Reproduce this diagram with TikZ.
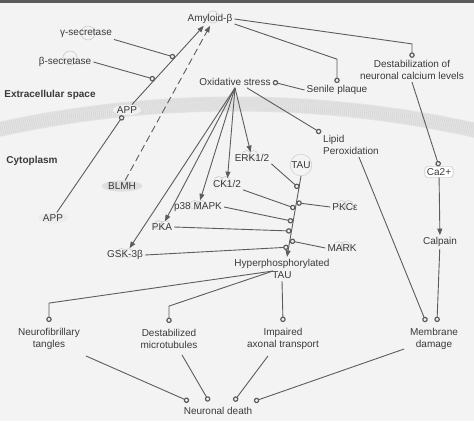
\documentclass[tikz,border=0pt]{standalone}
\usepackage{fontspec}
\setmainfont{Liberation Sans}
\usetikzlibrary{arrows.meta,shapes.geometric,calc}
\definecolor{bggray}{HTML}{F3F3F3}
\definecolor{bargray}{HTML}{5A5A5A}
\definecolor{linegray}{HTML}{5C5C5C}
\definecolor{txtgray}{HTML}{3A3A3A}
\definecolor{membgray}{HTML}{E3E3E3}
\definecolor{stripegray}{HTML}{D8D8D8}
\tikzset{act arrow/.style={
  linegray, line width=0.9pt,
  -{Triangle[width=5pt,length=6.5pt]}
  },
  inh line/.style={
  linegray, line width=0.9pt,
  -{Circle[open,length=5.5pt,line width=1.2pt]}
  },
  glyph/.style={gray!40, line width=0.6pt},
  mol/.style={text=txtgray, font=\fontsize{10}{12.5}\selectfont, inner sep=2pt, align=center},
  outcome/.style={mol, outer sep=4pt},
  compartment/.style={text=txtgray, font=\bfseries\fontsize{10}{12}\selectfont}
}

\begin{document}
\begin{tikzpicture}[x=1pt,y=-1pt]
    \fill[bggray] (0,0) rectangle (474,421);
    \fill[bargray] (0,0) rectangle (474,2.5);

    % membrane
    \begin{scope}
      \clip (0,0) rectangle (474,421);
      \draw[membgray, line width=15pt] (235,1204) circle[radius=1100];
      \draw[stripegray, line width=13pt, dash pattern=on 0.7pt off 1.3pt] (235,1204) circle[radius=1100];
    \end{scope}

    % faint glyphs behind the labels
    \draw[glyph] (213,17) circle[radius=6];
    \draw[glyph] (88,33) circle[radius=7];
    \draw[glyph] (70,58) circle[radius=7];
    \foreach \x/\y in {250/155,222/181,198/205,162/225,125/253,345/205,342/246} {
        \draw[glyph] (\x-3.5,\y) circle[radius=4.5];
        \draw[glyph] (\x+3.5,\y) circle[radius=4.5];
    }

    \node[compartment] (extra) at (50,95) {Extracellular space};
    \node[compartment] (cyto) at (32,161) {Cytoplasm};

    \node[mol] (amy) at (210,19) {Amyloid-β};
    \node[mol] (gsec) at (86,33) {γ-secretase};
    \node[mol] (bsec) at (65,62) {β-secretase};
    \node[mol, ellipse, fill=gray!12, draw=gray!30, inner sep=0.5pt] (appm) at (127,110) {APP};
    \node[mol, ellipse, fill=gray!15, inner sep=0.5pt] (appl) at (53,218) {APP};
    \node[mol, ellipse, fill=gray!25, inner sep=0.5pt] (blmh) at (122,186) {BLMH};
    \node[mol] (ox) at (235,82) {Oxidative stress};
    \node[mol] (senile) at (337,90) {Senile plaque};
    \node[mol] (destab) at (412,70) {Destabilization of\\neuronal calcium levels};
    \node[mol, anchor=west, align=left] (lipid) at (321,145) {Lipid\\Peroxidation};

    \node[mol] (erk) at (252,158) {ERK1/2};
    \node[mol] (ck) at (227,184) {CK1/2};
    \node[mol] (p38) at (198,207) {p38 MAPK};
    \node[mol] (pka) at (162,227) {PKA};
    \node[mol] (gsk) at (125,255) {GSK-3β};
    \node[mol, circle, draw=gray!45, inner sep=0.5pt] (tau) at (301,165) {TAU};
    \node[mol] (pkce) at (345,207) {PKCε};
    \node[mol] (mark) at (342,248) {MARK};
    \node[mol] (hyp) at (282,269) {Hyperphosphorylated\\TAU};

    \node[mol, draw=gray!60, fill=white, rounded corners=3pt] (ca) at (439,172) {Ca2+};
    \node[mol] (calp) at (440,242) {Calpain};

    \node[outcome] (nft) at (49,339) {Neurofibrillary\\tangles};
    \node[outcome] (dmt) at (169,339) {Destabilized\\microtubules};
    \node[outcome] (iat) at (283,339) {Impaired\\axonal transport};
    \node[outcome] (memb) at (434,339) {Membrane\\damage};
    \node[outcome] (death) at (218,411) {Neuronal death};

    % amyloid processing
    \draw[act arrow] (appm) -- (amy) coordinate[pos=0.6] (gsite) coordinate[pos=0.32] (bsite);
    \draw[inh line] (gsec.south east) -- (gsite);
    \draw[inh line] (bsec.east) -- (bsite);
    \draw[inh line] (appl) -- (appm);
    \draw[act arrow, dash pattern=on 7pt off 4pt] (blmh) -- (amy.south);

    \draw[inh line] (amy.east) -- ([yshift=14pt]destab.north) -- (destab.north);
    \draw[inh line] ([yshift=-5pt]amy.east) -- ([yshift=24pt]senile.north) -- (senile.north);

    % oxidative stress
    \foreach \n in {erk,ck,p38,pka,gsk}
        \draw[act arrow] (ox.south) -- (\n);
    \draw[inh line] (senile.west) -- (ox.east);
    \draw[inh line] ([xshift=12pt]ox.south) -- (lipid.north west);

    % tau phosphorylation
    \draw[act arrow] (tau.south) -- ([xshift=5pt]hyp.north)
        coordinate[pos=0.15] (onerk) coordinate[pos=0.33] (onpkce)
        coordinate[pos=0.4] (onck) coordinate[pos=0.56] (onp38)
        coordinate[pos=0.68] (onpka) coordinate[pos=0.8] (onmark)
        coordinate[pos=0.88] (ongsk);
    \foreach \a/\b in {erk.south east/onerk,ck.south east/onck,p38.east/onp38,pka.east/onpka,gsk.east/ongsk,pkce.west/onpkce,mark.west/onmark}
        \draw[inh line] (\a) -- (\b);

    % calcium
    \draw[inh line] (destab.south) -- (ca.north);
    \draw[act arrow] (ca) -- (calp);
    \draw[inh line] (calp) -- ([xshift=3pt]memb.north);
    \draw[inh line] ([xshift=8pt]lipid.south) -- ([xshift=-8pt]memb.north);

    % outcomes
    \coordinate (hypleft) at ([xshift=-9pt,yshift=-2pt]hyp.center);
    \draw[inh line] (hypleft) -- ([yshift=19pt]nft.north) -- (nft.north);
    \draw[inh line] (hypleft) -- ([yshift=17pt]dmt.north) -- (dmt.north);
    \draw[inh line] (hyp.south) -- (iat.north);

    \draw[inh line] (nft.south east) -- ([xshift=-29pt]death.north);
    \draw[inh line] ([xshift=13pt]dmt.south) -- ([xshift=-9pt]death.north);
    \draw[inh line] ([xshift=-15pt]iat.south) -- ([xshift=16pt]death.north);
    \draw[inh line] ([yshift=-10pt]memb.west) -- ([xshift=36pt]death.north);
\end{tikzpicture}
\end{document}
